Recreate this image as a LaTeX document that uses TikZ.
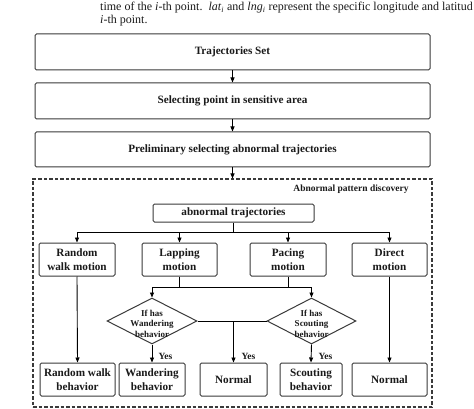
\documentclass[tikz,border=0pt]{standalone}
\usepackage{fontspec}
\setmainfont{Liberation Serif}
\usetikzlibrary{arrows.meta,shapes.geometric}
\definecolor{edge}{HTML}{3A3A3A}
\definecolor{ink}{HTML}{1A1A1A}
\tikzset{
  box/.style={draw=edge, line width=1pt, rounded corners=1.5pt, fill=white, inner sep=0pt,
    text=ink, font=\bfseries\fontsize{11.2}{14}\selectfont, align=center},
  dia/.style={draw=edge, line width=1pt, diamond, inner sep=0pt, fill=white},
  diatext/.style={text=ink, font=\bfseries\fontsize{9}{10.5}\selectfont, align=center, inner sep=0pt},
  yes/.style={text=ink, font=\bfseries\fontsize{9.5}{10}\selectfont, inner sep=0pt},
  arr/.style={draw=black, line width=0.9pt, -{Triangle[length=5pt,width=4pt]}},
  ln/.style={draw=black, line width=0.9pt},
  frame/.style={draw=edge, line width=1.1pt, dash pattern=on 3.5pt off 2pt, inner sep=0pt},
  head/.style={text=ink, font=\fontsize{12}{14}\selectfont, inner sep=0pt, anchor=base west}
}
\begin{document}
\begin{tikzpicture}[x=1pt,y=-1pt]
\useasboundingbox (0,0) rectangle (474,409);
\clip (0,0) rectangle (474,409);
\fill[white] (0,0) rectangle (474,409);
% header text
\node[head] (h1) at (100,11) {time of the \textit{i}-th point.\ \ \textit{lat}\textsubscript{\textit{i}} and \textit{lng}\textsubscript{\textit{i}} represent the specific longitude and latitud};
\node[head] (h2) at (100,24) {\textit{i}-th point.};
% top boxes
\node[box, minimum width=395, minimum height=36] (b1) at (232.5,52) {Trajectories Set};
\node[box, minimum width=395, minimum height=36] (b2) at (232.5,101) {Selecting point in sensitive area};
\node[box, minimum width=395, minimum height=35] (b3) at (232.5,149.5) {Preliminary selecting abnormal trajectories};
\node[frame, minimum width=399, minimum height=228] (fr) at (232.5,293) {};
\draw[arr] (b1.south) -- (b2.north);
\draw[arr] (b2.south) -- (b3.north);
\draw[arr] (b3.south) -- (fr.north);
\node[text=ink, font=\bfseries\fontsize{9.5}{10}\selectfont, inner sep=0pt] (lab) at (351,189) {Abnormal pattern discovery};
% abnormal trajectories
\node[box, minimum width=161, minimum height=18] (abn) at (233.5,213) {abnormal trajectories};
\coordinate (br) at (233.5,232);
\node[box, minimum width=76, minimum height=33] (rwm) at (77,259.5) {Random\\walk motion};
\node[box, minimum width=75, minimum height=33] (lap) at (179.5,259.5) {Lapping\\motion};
\node[box, minimum width=76, minimum height=33] (pac) at (288,259.5) {Pacing\\motion};
\node[box, minimum width=75, minimum height=33] (dir) at (389.5,259.5) {Direct\\motion};
\draw[ln] (abn.south) -- (br);
\draw[arr] (br) -| (rwm.north);
\draw[arr] (br) -| (lap.north);
\draw[arr] (br) -| (pac.north);
\draw[arr] (br) -| (dir.north);
% diamonds
\node[dia, minimum width=90, minimum height=46] (d1) at (152,321) {};
\node[dia, minimum width=89, minimum height=46] (d2) at (311.5,321) {};
\node[diatext] (d1t) at (152,323.5) {If has\\Wandering\\behavior};
\node[diatext] (d2t) at (311.5,323.5) {If has\\Scouting\\behavior};
\coordinate (lapj) at (179.5,287);
\coordinate (pacj) at (288,287);
\draw[ln] (lap.south) -- (lapj);
\draw[ln] (pac.south) -- (pacj);
\draw[ln] (lapj) -- (pacj);
\draw[arr] (lapj) -| (d1.north);
\draw[arr] (pacj) -| (d2.north);
% bottom boxes
\node[box, minimum width=75, minimum height=33] (rwb) at (77.5,379.5) {Random walk\\behavior};
\node[box, minimum width=66, minimum height=33] (wb) at (152,379.5) {Wandering\\behavior};
\node[box, minimum width=67, minimum height=33] (nm) at (233.5,379.5) {Normal};
\node[box, minimum width=62, minimum height=33] (sb) at (311,379.5) {Scouting\\behavior};
\node[box, minimum width=75, minimum height=33] (nr) at (389.5,379.5) {Normal};
\draw[arr] (rwm.south) -- (rwb.north);
\draw[arr] (d1.south) -- (wb.north);
\draw[arr] (d2.south) -- (sb.north);
\draw[arr] (dir.south) -- (nr.north);
\coordinate (mid) at (233.5,321);
\draw[ln] (d1.east) -- (d2.west);
\draw[arr] (mid) -- (nm.north);
\node[yes] (y1) at (165.5,356) {Yes};
\node[yes] (y2) at (248.5,356) {Yes};
\node[yes] (y3) at (325.5,356) {Yes};
\end{tikzpicture}
\end{document}
